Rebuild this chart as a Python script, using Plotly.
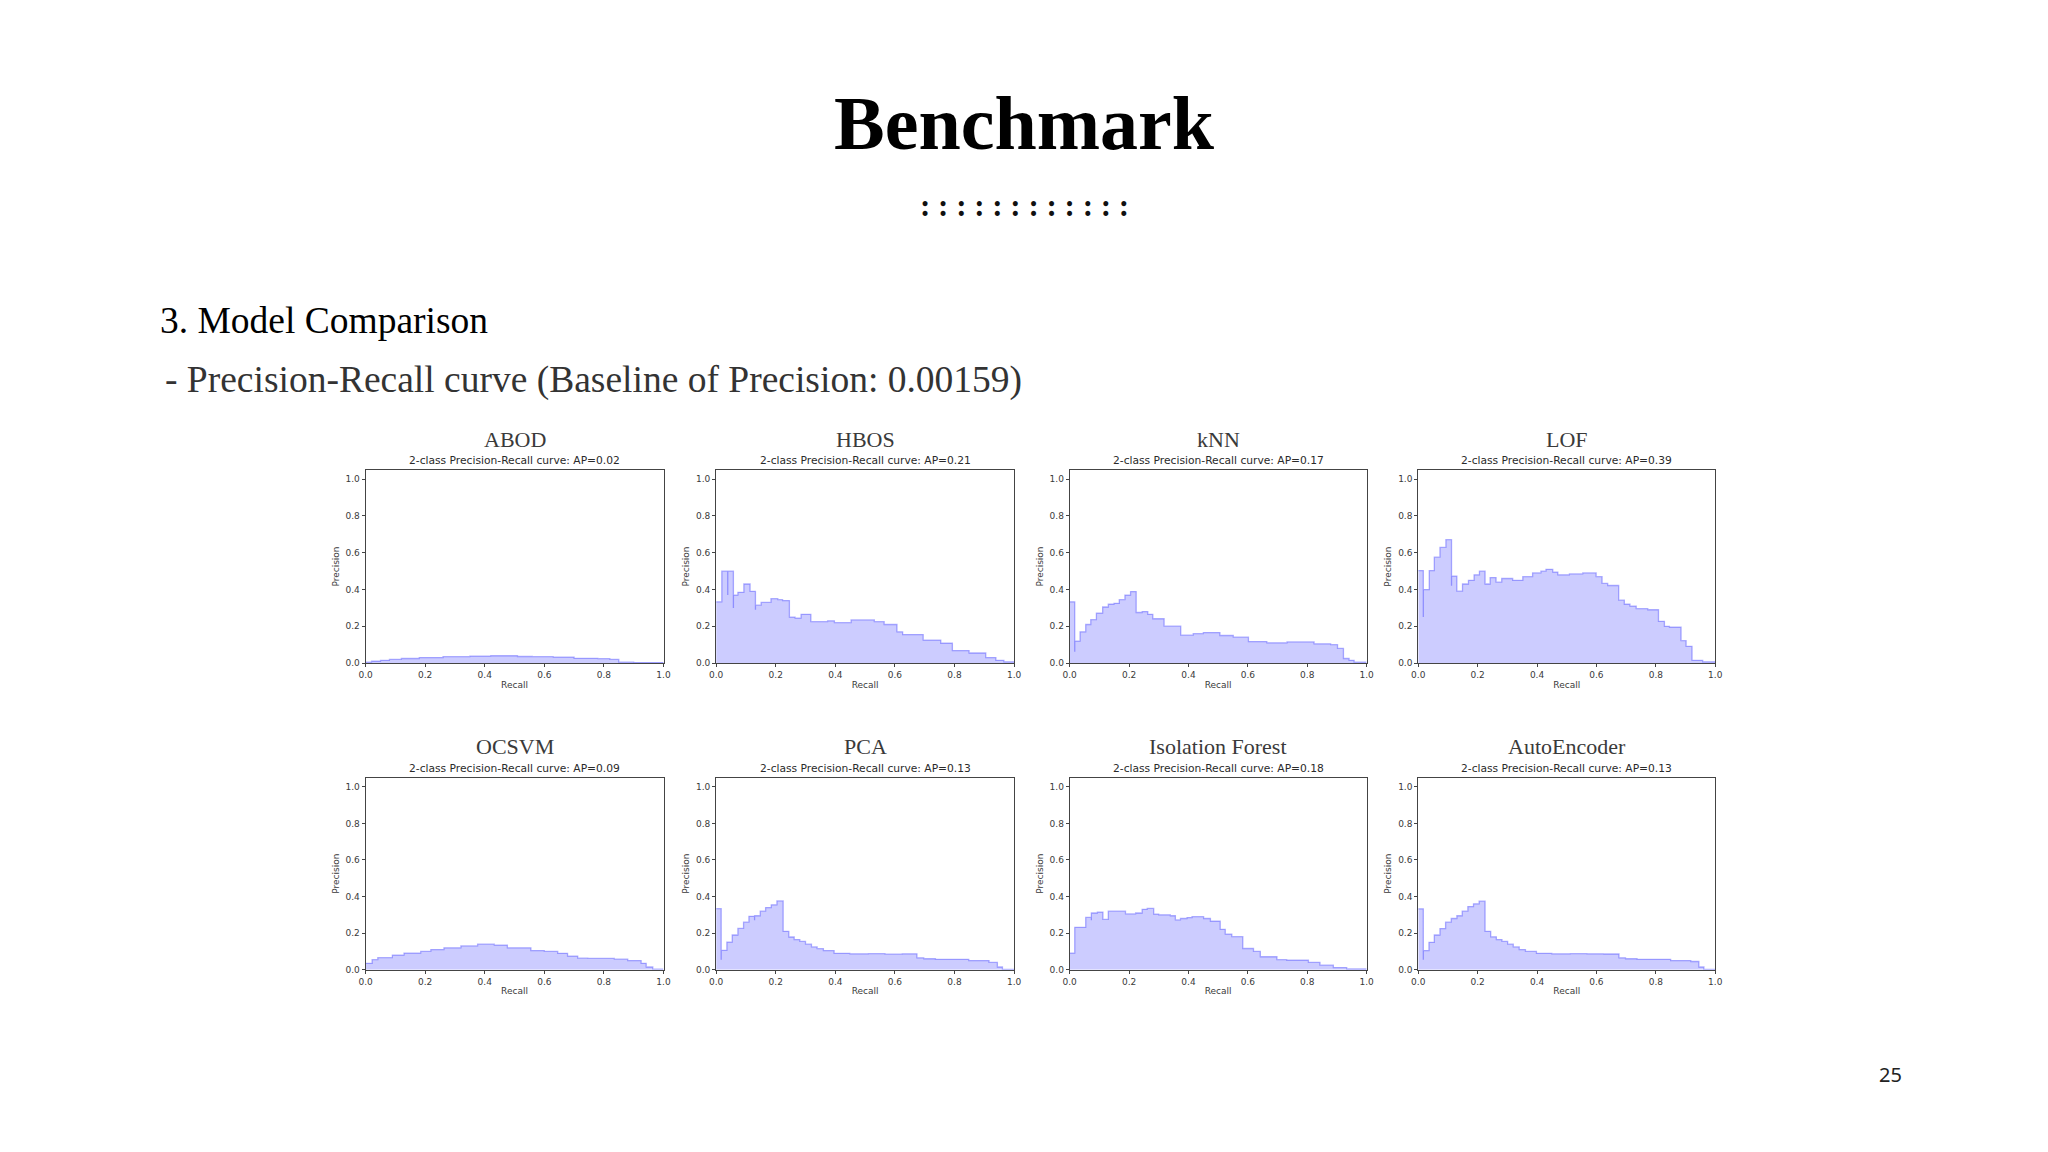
import plotly.graph_objects as go

# screenshot size and body margin compensation
SW, SH = 2048, 1152
OFF = 8
W, H = SW - 2 * OFF, SH - 2 * OFF

MODELS = ["ABOD", "HBOS", "kNN", "LOF", "OCSVM", "PCA", "Isolation Forest", "AutoEncoder"]
AP_VALUES = ["0.02", "0.21", "0.17", "0.39", "0.09", "0.13", "0.18", "0.13"]
TICK_VALUES = [0.0, 0.2, 0.4, 0.6, 0.8, 1.0]

ABOD_RECALL = [0.0, 0.02, 0.05, 0.08, 0.12, 0.18, 0.26, 0.35, 0.42, 0.51, 0.56, 0.63, 0.70, 0.78, 0.82, 0.85, 0.90, 1.0]
ABOD_PRECISION = [0.005, 0.01, 0.015, 0.02, 0.025, 0.03, 0.035, 0.038, 0.040, 0.036, 0.035, 0.033, 0.026, 0.024, 0.02, 0.005, 0.003, 0.002]

HBOS_RECALL = [0.0, 0.019, 0.039, 0.039, 0.058, 0.058, 0.073, 0.093, 0.114, 0.132, 0.132, 0.151, 0.184, 0.207, 0.223, 0.246, 0.265, 0.285, 0.318, 0.374, 0.397, 0.453, 0.531, 0.564, 0.607, 0.626, 0.695, 0.754, 0.793, 0.849, 0.905, 0.939, 0.966, 1.0]
HBOS_PRECISION = [0.333, 0.5, 0.37, 0.5, 0.30, 0.37, 0.385, 0.43, 0.39, 0.29, 0.315, 0.33, 0.35, 0.345, 0.34, 0.25, 0.245, 0.265, 0.225, 0.23, 0.22, 0.235, 0.225, 0.21, 0.17, 0.155, 0.125, 0.108, 0.068, 0.055, 0.03, 0.015, 0.007, 0.005]

KNN_RECALL = [0.0, 0.017, 0.017, 0.035, 0.054, 0.071, 0.090, 0.111, 0.130, 0.149, 0.167, 0.186, 0.205, 0.224, 0.244, 0.263, 0.280, 0.318, 0.374, 0.416, 0.450, 0.506, 0.551, 0.602, 0.664, 0.732, 0.823, 0.879, 0.902, 0.922, 0.941, 0.958, 1.0]
KNN_PRECISION = [0.333, 0.062, 0.12, 0.17, 0.21, 0.236, 0.272, 0.305, 0.32, 0.325, 0.345, 0.37, 0.389, 0.275, 0.28, 0.265, 0.241, 0.201, 0.152, 0.16, 0.166, 0.15, 0.141, 0.117, 0.11, 0.115, 0.105, 0.1, 0.08, 0.025, 0.015, 0.005, 0.005]

LOF_RECALL = [0.0, 0.017, 0.017, 0.037, 0.054, 0.073, 0.093, 0.112, 0.112, 0.130, 0.149, 0.169, 0.188, 0.206, 0.225, 0.242, 0.262, 0.281, 0.318, 0.352, 0.385, 0.413, 0.430, 0.453, 0.470, 0.509, 0.554, 0.599, 0.619, 0.638, 0.675, 0.694, 0.713, 0.734, 0.773, 0.809, 0.829, 0.846, 0.885, 0.902, 0.922, 0.958, 1.0]
LOF_PRECISION = [0.503, 0.25, 0.4, 0.503, 0.576, 0.629, 0.671, 0.42, 0.473, 0.391, 0.43, 0.45, 0.48, 0.5, 0.43, 0.465, 0.44, 0.46, 0.45, 0.47, 0.49, 0.5, 0.51, 0.495, 0.48, 0.485, 0.49, 0.47, 0.433, 0.422, 0.342, 0.32, 0.31, 0.296, 0.29, 0.227, 0.2, 0.195, 0.122, 0.091, 0.015, 0.007, 0.007]

OCSVM_RECALL = [0.0, 0.022, 0.041, 0.090, 0.129, 0.185, 0.219, 0.263, 0.320, 0.376, 0.432, 0.476, 0.555, 0.600, 0.645, 0.678, 0.712, 0.746, 0.835, 0.880, 0.925, 0.942, 0.964, 1.0]
OCSVM_PRECISION = [0.035, 0.055, 0.066, 0.08, 0.091, 0.1, 0.11, 0.12, 0.13, 0.14, 0.135, 0.12, 0.105, 0.1, 0.09, 0.075, 0.063, 0.062, 0.058, 0.05, 0.035, 0.015, 0.003, 0.003]

PCA_RECALL = [0.0, 0.017, 0.017, 0.036, 0.054, 0.073, 0.092, 0.110, 0.129, 0.129, 0.148, 0.166, 0.185, 0.204, 0.225, 0.244, 0.262, 0.281, 0.300, 0.320, 0.339, 0.360, 0.396, 0.449, 0.511, 0.567, 0.624, 0.674, 0.697, 0.736, 0.848, 0.916, 0.944, 0.961, 1.0]
PCA_PRECISION = [0.334, 0.055, 0.106, 0.151, 0.19, 0.226, 0.26, 0.292, 0.27, 0.295, 0.32, 0.34, 0.355, 0.376, 0.21, 0.179, 0.165, 0.155, 0.14, 0.125, 0.115, 0.105, 0.09, 0.087, 0.088, 0.085, 0.087, 0.065, 0.06, 0.057, 0.05, 0.04, 0.015, 0.002, 0.002]

IFOREST_RECALL = [0.0, 0.017, 0.054, 0.073, 0.073, 0.093, 0.112, 0.130, 0.188, 0.222, 0.244, 0.261, 0.283, 0.300, 0.339, 0.356, 0.373, 0.395, 0.412, 0.451, 0.474, 0.507, 0.524, 0.546, 0.583, 0.619, 0.642, 0.698, 0.731, 0.804, 0.843, 0.888, 0.933, 1.0]
IFOREST_PRECISION = [0.091, 0.232, 0.286, 0.27, 0.31, 0.315, 0.275, 0.32, 0.305, 0.31, 0.33, 0.335, 0.304, 0.3, 0.295, 0.272, 0.28, 0.285, 0.29, 0.28, 0.265, 0.221, 0.195, 0.181, 0.116, 0.1, 0.071, 0.055, 0.052, 0.04, 0.025, 0.012, 0.004, 0.004]

AE_RECALL = [0.0, 0.017, 0.017, 0.036, 0.054, 0.073, 0.092, 0.111, 0.130, 0.148, 0.167, 0.186, 0.205, 0.225, 0.244, 0.263, 0.282, 0.301, 0.320, 0.340, 0.361, 0.398, 0.450, 0.512, 0.568, 0.625, 0.676, 0.698, 0.737, 0.850, 0.918, 0.945, 0.962, 1.0]
AE_PRECISION = [0.333, 0.055, 0.105, 0.15, 0.19, 0.225, 0.26, 0.28, 0.295, 0.32, 0.345, 0.36, 0.375, 0.21, 0.18, 0.165, 0.155, 0.14, 0.125, 0.11, 0.1, 0.09, 0.087, 0.088, 0.087, 0.086, 0.065, 0.06, 0.057, 0.05, 0.045, 0.015, 0.002, 0.002]

SERIES = [
    (ABOD_RECALL, ABOD_PRECISION),
    (HBOS_RECALL, HBOS_PRECISION),
    (KNN_RECALL, KNN_PRECISION),
    (LOF_RECALL, LOF_PRECISION),
    (OCSVM_RECALL, OCSVM_PRECISION),
    (PCA_RECALL, PCA_PRECISION),
    (IFOREST_RECALL, IFOREST_PRECISION),
    (AE_RECALL, AE_PRECISION),
]

# panel pixel boxes in screenshot coordinates
COLS = [(361, 661), (714, 1014), (1070, 1369), (1421, 1720)]
ROWS = [(472, 666), (781, 974)]


def px(x):
    return (x - OFF) / W


def py(y):
    return 1 - (y - OFF) / H


fig = go.Figure()
layout = dict(
    width=W, height=H,
    margin=dict(l=0, r=0, t=0, b=0),
    paper_bgcolor="white", plot_bgcolor="white",
    showlegend=False,
)
annotations = []

tick_font = dict(family="DejaVu Sans", size=9, color="#3a3a3a")
for i, (name, ap, (rec, prec)) in enumerate(zip(MODELS, AP_VALUES, SERIES)):
    r, c = divmod(i, 4)
    x0, x1 = COLS[c]
    y0, y1 = ROWS[r]
    k = "" if i == 0 else str(i + 1)
    fig.add_trace(go.Scatter(
        x=rec, y=prec, mode="lines",
        line=dict(shape="hv", color="rgba(0,0,255,0.3)", width=1.3),
        fill="tozeroy", fillcolor="rgba(0,0,255,0.2)",
        xaxis="x" + k, yaxis="y" + k, hoverinfo="skip",
    ))
    common = dict(
        showgrid=False, zeroline=False, showline=True, mirror=True,
        linecolor="#444", linewidth=1, ticks="outside", ticklen=3,
        tickcolor="#444", tickwidth=1, tickfont=tick_font,
        tickvals=TICK_VALUES, tickformat=".1f",
    )
    layout["xaxis" + k] = dict(
        common, domain=[px(x0), px(x1)], range=[0, 1], anchor="y" + k,
        title=dict(text="Recall", font=tick_font, standoff=2),
    )
    layout["yaxis" + k] = dict(
        common, domain=[py(y1), py(y0)], range=[0, 1.05], anchor="x" + k,
        title=dict(text="Precision", font=tick_font, standoff=4),
    )
    cx = px((x0 + x1) / 2)
    annotations.append(dict(
        text=name, x=cx, y=py(y0 - 31), xref="paper", yref="paper",
        xanchor="center", yanchor="middle", showarrow=False,
        font=dict(family="Liberation Serif", size=22, color="#3a3a3a"),
    ))
    annotations.append(dict(
        text="2-class Precision-Recall curve: AP=" + ap, x=cx, y=py(y0 - 9),
        xref="paper", yref="paper", xanchor="center", yanchor="middle", showarrow=False,
        font=dict(family="DejaVu Sans", size=10.7, color="#2a2a2a"),
    ))

annotations += [
    dict(text="<b>Benchmark</b>", x=px(1025), y=py(124), xref="paper", yref="paper",
         xanchor="center", yanchor="middle", showarrow=False,
         font=dict(family="Liberation Serif", size=76, color="#000")),
    dict(text="<b>" + " ".join([":"] * 12) + "</b>", x=px(1025), y=py(206), xref="paper", yref="paper",
         xanchor="center", yanchor="middle", showarrow=False,
         font=dict(family="Liberation Serif", size=31, color="#111")),
    dict(text="3. Model Comparison", x=px(152), y=py(322), xref="paper", yref="paper",
         xanchor="left", yanchor="middle", showarrow=False,
         font=dict(family="Liberation Serif", size=37.5, color="#000")),
    dict(text="- Precision-Recall curve (Baseline of Precision: 0.00159)", x=px(157), y=py(382),
         xref="paper", yref="paper", xanchor="left", yanchor="middle", showarrow=False,
         font=dict(family="Liberation Serif", size=37.5, color="#333")),
    dict(text="25", x=px(1897), y=py(1079), xref="paper", yref="paper",
         xanchor="center", yanchor="middle", showarrow=False,
         font=dict(family="Noto Sans", size=20, color="#222")),
]
layout["annotations"] = annotations
fig.update_layout(**layout)
fig.write_html("out.html")
